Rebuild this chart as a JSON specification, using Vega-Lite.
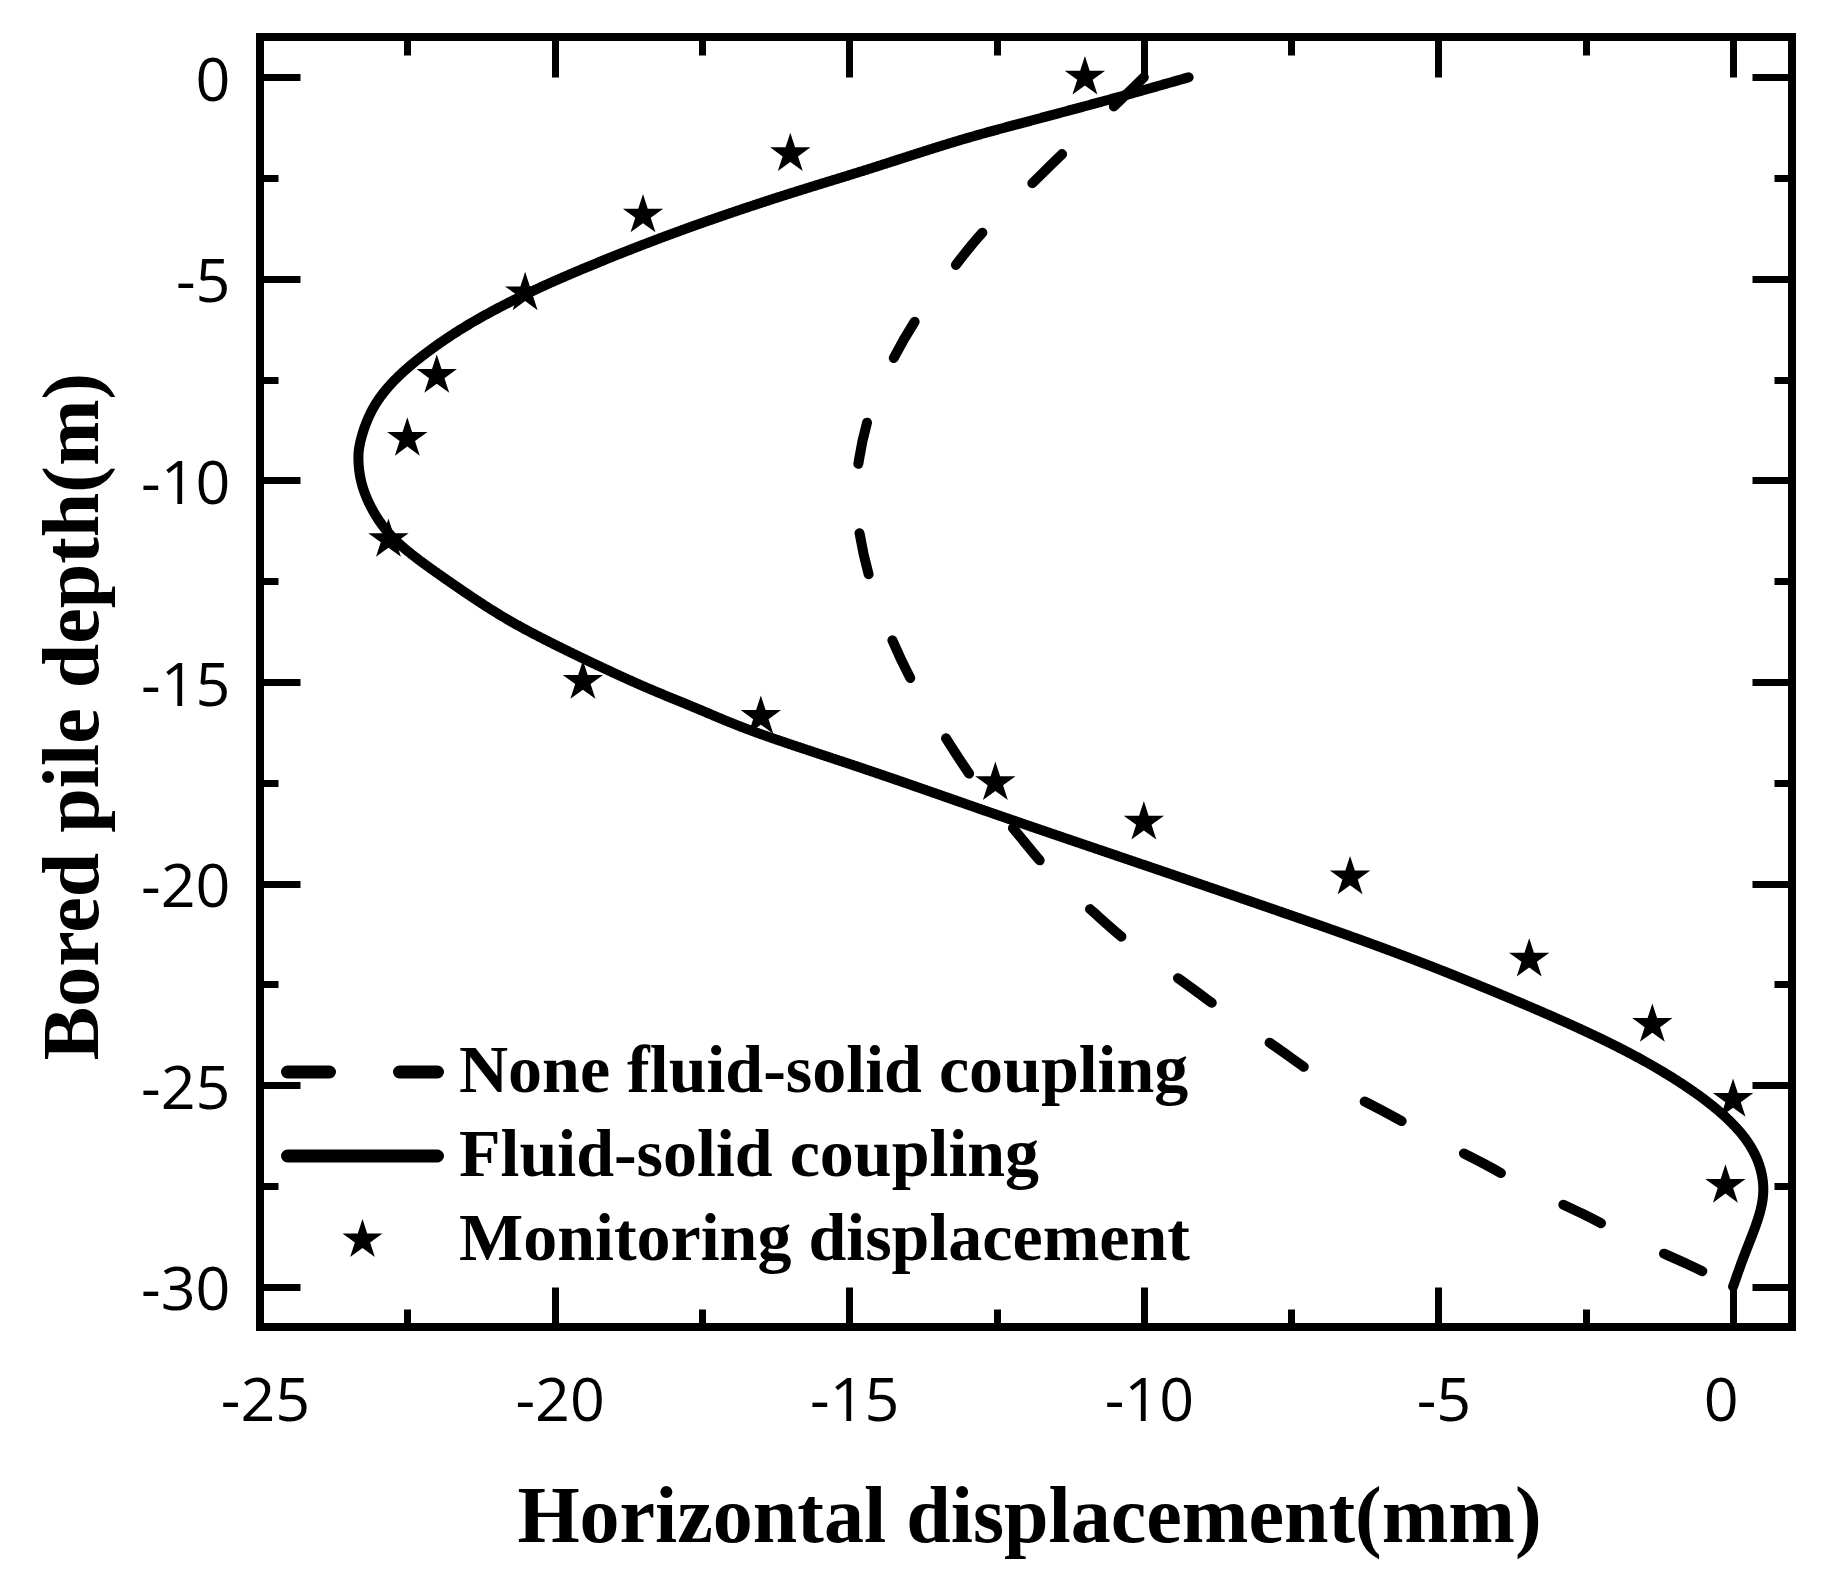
{
  "$schema": "https://vega.github.io/schema/vega-lite/v6.json",
  "width": 1532,
  "height": 1290,
  "autosize": {"type": "none"},
  "padding": {"left": 260, "top": 37, "right": 33, "bottom": 242},
  "background": "white",
  "data": {
    "values": [
      {"series": "None fluid-solid coupling", "displacement": -10.0, "depth": 0},
      {"series": "None fluid-solid coupling", "displacement": -10.54, "depth": -0.78},
      {"series": "None fluid-solid coupling", "displacement": -11.35, "depth": -1.83},
      {"series": "None fluid-solid coupling", "displacement": -11.94, "depth": -2.71},
      {"series": "None fluid-solid coupling", "displacement": -12.75, "depth": -3.81},
      {"series": "None fluid-solid coupling", "displacement": -13.24, "depth": -4.75},
      {"series": "None fluid-solid coupling", "displacement": -13.84, "depth": -5.9},
      {"series": "None fluid-solid coupling", "displacement": -14.27, "depth": -6.99},
      {"series": "None fluid-solid coupling", "displacement": -14.68, "depth": -8.3},
      {"series": "None fluid-solid coupling", "displacement": -14.86, "depth": -9.6},
      {"series": "None fluid-solid coupling", "displacement": -14.9, "depth": -10.35},
      {"series": "None fluid-solid coupling", "displacement": -14.86, "depth": -11.11},
      {"series": "None fluid-solid coupling", "displacement": -14.68, "depth": -12.42},
      {"series": "None fluid-solid coupling", "displacement": -14.32, "depth": -13.83},
      {"series": "None fluid-solid coupling", "displacement": -13.94, "depth": -15.03},
      {"series": "None fluid-solid coupling", "displacement": -13.35, "depth": -16.42},
      {"series": "None fluid-solid coupling", "displacement": -12.81, "depth": -17.65},
      {"series": "None fluid-solid coupling", "displacement": -12.15, "depth": -18.72},
      {"series": "None fluid-solid coupling", "displacement": -11.63, "depth": -19.72},
      {"series": "None fluid-solid coupling", "displacement": -10.81, "depth": -20.76},
      {"series": "None fluid-solid coupling", "displacement": -10.18, "depth": -21.6},
      {"series": "None fluid-solid coupling", "displacement": -9.29, "depth": -22.46},
      {"series": "None fluid-solid coupling", "displacement": -8.58, "depth": -23.27},
      {"series": "None fluid-solid coupling", "displacement": -7.68, "depth": -24.11},
      {"series": "None fluid-solid coupling", "displacement": -6.98, "depth": -24.9},
      {"series": "None fluid-solid coupling", "displacement": -5.99, "depth": -25.58},
      {"series": "None fluid-solid coupling", "displacement": -5.24, "depth": -26.22},
      {"series": "None fluid-solid coupling", "displacement": -4.21, "depth": -26.94},
      {"series": "None fluid-solid coupling", "displacement": -3.48, "depth": -27.58},
      {"series": "None fluid-solid coupling", "displacement": -2.52, "depth": -28.19},
      {"series": "None fluid-solid coupling", "displacement": -1.76, "depth": -28.82},
      {"series": "None fluid-solid coupling", "displacement": -0.73, "depth": -29.45},
      {"series": "None fluid-solid coupling", "displacement": 0, "depth": -30},
      {"series": "Fluid-solid coupling", "displacement": -9.24, "depth": 0},
      {"series": "Fluid-solid coupling", "displacement": -10.49, "depth": -0.52},
      {"series": "Fluid-solid coupling", "displacement": -12.11, "depth": -1.15},
      {"series": "Fluid-solid coupling", "displacement": -13.19, "depth": -1.57},
      {"series": "Fluid-solid coupling", "displacement": -14.7, "depth": -2.3},
      {"series": "Fluid-solid coupling", "displacement": -15.89, "depth": -2.82},
      {"series": "Fluid-solid coupling", "displacement": -17.18, "depth": -3.44},
      {"series": "Fluid-solid coupling", "displacement": -18.37, "depth": -4.07},
      {"series": "Fluid-solid coupling", "displacement": -19.45, "depth": -4.7},
      {"series": "Fluid-solid coupling", "displacement": -20.43, "depth": -5.32},
      {"series": "Fluid-solid coupling", "displacement": -21.4, "depth": -6.05},
      {"series": "Fluid-solid coupling", "displacement": -22.15, "depth": -6.78},
      {"series": "Fluid-solid coupling", "displacement": -22.75, "depth": -7.51},
      {"series": "Fluid-solid coupling", "displacement": -23.13, "depth": -8.24},
      {"series": "Fluid-solid coupling", "displacement": -23.32, "depth": -9.08},
      {"series": "Fluid-solid coupling", "displacement": -23.34, "depth": -9.5},
      {"series": "Fluid-solid coupling", "displacement": -23.29, "depth": -10.12},
      {"series": "Fluid-solid coupling", "displacement": -23.07, "depth": -10.85},
      {"series": "Fluid-solid coupling", "displacement": -22.69, "depth": -11.58},
      {"series": "Fluid-solid coupling", "displacement": -21.85, "depth": -12.45},
      {"series": "Fluid-solid coupling", "displacement": -20.93, "depth": -13.37},
      {"series": "Fluid-solid coupling", "displacement": -20.08, "depth": -14.02},
      {"series": "Fluid-solid coupling", "displacement": -19.23, "depth": -14.62},
      {"series": "Fluid-solid coupling", "displacement": -18.38, "depth": -15.19},
      {"series": "Fluid-solid coupling", "displacement": -17.53, "depth": -15.68},
      {"series": "Fluid-solid coupling", "displacement": -16.69, "depth": -16.23},
      {"series": "Fluid-solid coupling", "displacement": -14.7, "depth": -17.16},
      {"series": "Fluid-solid coupling", "displacement": -12.6, "depth": -18.25},
      {"series": "Fluid-solid coupling", "displacement": -10.05, "depth": -19.51},
      {"series": "Fluid-solid coupling", "displacement": -7.65, "depth": -20.71},
      {"series": "Fluid-solid coupling", "displacement": -5.5, "depth": -21.81},
      {"series": "Fluid-solid coupling", "displacement": -3.4, "depth": -23.07},
      {"series": "Fluid-solid coupling", "displacement": -1.97, "depth": -24.01},
      {"series": "Fluid-solid coupling", "displacement": -0.97, "depth": -24.84},
      {"series": "Fluid-solid coupling", "displacement": -0.26, "depth": -25.58},
      {"series": "Fluid-solid coupling", "displacement": 0.24, "depth": -26.31},
      {"series": "Fluid-solid coupling", "displacement": 0.49, "depth": -27.04},
      {"series": "Fluid-solid coupling", "displacement": 0.54, "depth": -27.77},
      {"series": "Fluid-solid coupling", "displacement": 0.39, "depth": -28.5},
      {"series": "Fluid-solid coupling", "displacement": 0.18, "depth": -29.24},
      {"series": "Fluid-solid coupling", "displacement": 0, "depth": -30},
      {"series": "Monitoring displacement", "displacement": -11.0, "depth": 0},
      {"series": "Monitoring displacement", "displacement": -16.0, "depth": -1.9},
      {"series": "Monitoring displacement", "displacement": -18.5, "depth": -3.42},
      {"series": "Monitoring displacement", "displacement": -20.5, "depth": -5.35},
      {"series": "Monitoring displacement", "displacement": -22.0, "depth": -7.4},
      {"series": "Monitoring displacement", "displacement": -22.5, "depth": -8.96},
      {"series": "Monitoring displacement", "displacement": -22.82, "depth": -11.47},
      {"series": "Monitoring displacement", "displacement": -19.52, "depth": -14.99},
      {"series": "Monitoring displacement", "displacement": -16.5, "depth": -15.86},
      {"series": "Monitoring displacement", "displacement": -12.52, "depth": -17.5},
      {"series": "Monitoring displacement", "displacement": -10.0, "depth": -18.48},
      {"series": "Monitoring displacement", "displacement": -6.5, "depth": -19.84},
      {"series": "Monitoring displacement", "displacement": -3.46, "depth": -21.88},
      {"series": "Monitoring displacement", "displacement": -1.37, "depth": -23.5},
      {"series": "Monitoring displacement", "displacement": 0.0, "depth": -25.36},
      {"series": "Monitoring displacement", "displacement": -0.13, "depth": -27.49}
    ]
  },
  "layer": [
    {
      "transform": [{"filter": "datum.series !== 'Monitoring displacement'"}],
      "mark": {
        "type": "line",
        "color": "black",
        "strokeWidth": 10,
        "strokeCap": "round",
        "strokeJoin": "round",
        "interpolate": "basis"
      },
      "encoding": {
        "x": {
          "field": "displacement",
          "type": "quantitative",
          "scale": {"domain": [-25, 1], "nice": false, "zero": false},
          "axis": {
            "orient": "bottom",
            "values": [-25, -22.5, -20, -17.5, -15, -12.5, -10, -7.5, -5, -2.5, 0],
            "tickSize": -40,
            "tickDash": {"condition": {"test": "datum.value % 5 !== 0", "value": [18, 100]}, "value": [40, 100]},
            "labelExpr": "datum.value % 5 === 0 ? '' + datum.value : ''",
            "labelPadding": 85,
            "labelOffset": 5,
            "labelAlign": {"condition": {"test": "datum.value === 0", "value": "right"}, "value": "center"},
            "title": "Horizontal displacement(mm)",
            "titleX": 769,
            "titleY": 214,
            "titleAlign": "center",
            "titleBaseline": "alphabetic"
          }
        },
        "y": {
          "field": "depth",
          "type": "quantitative",
          "scale": {"domain": [-31, 1], "nice": false, "zero": false},
          "axis": {
            "orient": "left",
            "values": [-30, -27.5, -25, -22.5, -20, -17.5, -15, -12.5, -10, -7.5, -5, -2.5, 0],
            "tickSize": -40,
            "tickDash": {"condition": {"test": "datum.value % 5 !== 0", "value": [18, 100]}, "value": [40, 100]},
            "labelExpr": "datum.value % 5 === 0 ? '' + datum.value : ''",
            "labelPadding": 70,
            "labelOffset": 5,
            "title": "Bored pile depth(m)",
            "titleAngle": -90,
            "titleX": -163,
            "titleY": 679,
            "titleAlign": "center",
            "titleBaseline": "alphabetic"
          }
        },
        "order": {"field": "depth", "sort": "descending"},
        "strokeDash": {
          "field": "series",
          "type": "nominal",
          "scale": {
            "domain": ["None fluid-solid coupling", "Fluid-solid coupling", "Monitoring displacement"],
            "range": [[42, 70], [1, 0], [1, 0]]
          },
          "legend": {
            "title": null,
            "orient": "none",
            "legendX": 21,
            "legendY": 994,
            "padding": 0,
            "symbolType": "stroke",
            "symbolSize": 22500,
            "symbolStrokeWidth": 13,
            "symbolStrokeColor": "black",
            "clipHeight": 82,
            "rowPadding": 2,
            "labelOffset": 15,
            "labelFont": "Liberation Serif",
            "labelFontWeight": "bold",
            "labelFontSize": 68,
            "labelColor": "black",
            "labelLimit": 1200,
            "encode": {
              "symbols": {
                "update": {
                  "shape": {"signal": "datum.value === 'Monitoring displacement' ? 'M0,-0.28L0.0629,-0.0865L0.2663,-0.0865L0.1017,0.033L0.1646,0.2265L0,0.107L-0.1646,0.2265L-0.1017,0.033L-0.2663,-0.0865L-0.0629,-0.0865Z' : 'stroke'"},
                  "fill": {"signal": "datum.value === 'Monitoring displacement' ? 'black' : 'transparent'"},
                  "stroke": {"signal": "datum.value === 'Monitoring displacement' ? 'transparent' : 'black'"},
                  "strokeCap": {"value": "round"}
                }
              }
            }
          }
        }
      }
    },
    {
      "transform": [{"filter": "datum.series === 'Monitoring displacement'"}],
      "mark": {
        "type": "point",
        "shape": "M0,-1L0.2245,-0.309L0.9511,-0.309L0.3633,0.118L0.5878,0.809L0,0.382L-0.5878,0.809L-0.3633,0.118L-0.9511,-0.309L-0.2245,-0.309Z",
        "size": 1800,
        "filled": true,
        "color": "black",
        "opacity": 1,
        "strokeWidth": 0
      },
      "encoding": {
        "x": {
          "field": "displacement",
          "type": "quantitative",
          "scale": {"domain": [-25, 1], "nice": false, "zero": false},
          "axis": {
            "orient": "top",
            "values": [-25, -22.5, -20, -17.5, -15, -12.5, -10, -7.5, -5, -2.5, 0],
            "tickSize": -40,
            "tickDash": {"condition": {"test": "datum.value % 5 !== 0", "value": [18, 100]}, "value": [40, 100]},
            "labels": false,
            "title": null
          }
        },
        "y": {
          "field": "depth",
          "type": "quantitative",
          "scale": {"domain": [-31, 1], "nice": false, "zero": false},
          "axis": {
            "orient": "right",
            "values": [-30, -27.5, -25, -22.5, -20, -17.5, -15, -12.5, -10, -7.5, -5, -2.5, 0],
            "tickSize": -40,
            "tickDash": {"condition": {"test": "datum.value % 5 !== 0", "value": [18, 100]}, "value": [40, 100]},
            "labels": false,
            "title": null
          }
        }
      }
    }
  ],
  "resolve": {"axis": {"x": "independent", "y": "independent"}},
  "config": {
    "view": {"stroke": "black", "strokeWidth": 8},
    "axis": {
      "grid": false,
      "domain": false,
      "ticks": true,
      "tickColor": "black",
      "tickWidth": 7,
      "tickCap": "butt",
      "labelColor": "black",
      "labelFont": "Open Sans",
      "labelFontSize": 61,
      "labelFlush": false,
      "labelOverlap": false,
      "titleFont": "Liberation Serif",
      "titleFontWeight": "bold",
      "titleFontSize": 80,
      "titleColor": "black"
    }
  }
}
